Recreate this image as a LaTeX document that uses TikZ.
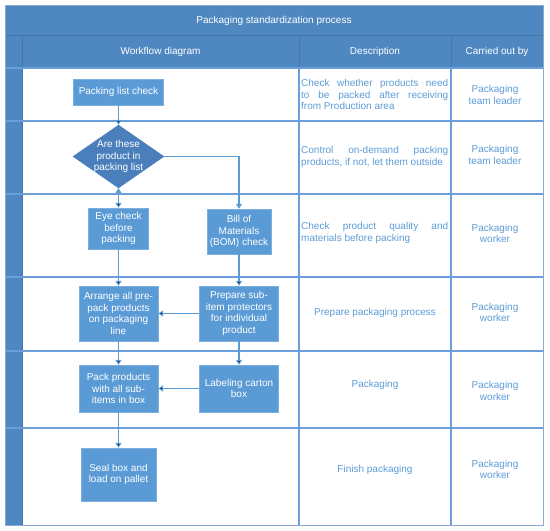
\documentclass[tikz,border=0pt]{standalone}
\usepackage{fontspec}
\setmainfont{Liberation Sans}
\usepackage{tikz}
\usetikzlibrary{arrows.meta,calc,shapes.geometric}

\definecolor{headblue}{HTML}{4F87C0}
\definecolor{headline}{HTML}{4477AE}
\definecolor{boxblue}{HTML}{5B9BD5}
\definecolor{diablue}{HTML}{4A7FBC}
\definecolor{gridblue}{HTML}{6C9FD9}
\definecolor{txtblue}{HTML}{5B9BD5}
\definecolor{frame}{HTML}{8EA9CF}

\newcommand{\jl}[1]{\makebox[147pt][s]{#1}}

\tikzset{
	every node/.style={font=\fontsize{10}{11.5}\selectfont},
	stepbox/.style={draw=boxblue!80!white, fill=boxblue, text=white, align=center, inner sep=0pt},
	decision/.style={diamond, draw=diablue, fill=diablue, inner sep=0pt, minimum width=91pt, minimum height=63pt},
	boxtext/.style={text=white, align=center, inner sep=0pt},
	headtext/.style={text=white, inner sep=0pt},
	desc/.style={text=txtblue, align=left, inner sep=0pt, anchor=west},
	who/.style={text=txtblue, align=center, inner sep=0pt},
	grid/.style={draw=gridblue, line width=1.2pt},
	flow/.style={draw=boxblue, line width=1.1pt, -{Triangle[length=5pt,width=6pt]}}
}

\begin{document}
\begin{tikzpicture}[x=1pt,y=-1pt]
	\useasboundingbox (0,0) rectangle (550,531);
	% bands
	\fill[headblue] (5,5) rectangle (543,68);
	\fill[headblue] (5,68) rectangle (22,525);
	\draw[headline, line width=1pt] (5,35) -- (543,35);
	\draw[headline, line width=1pt] (22,35) -- (22,525);
	\draw[headline, line width=1pt] (299,35) -- (299,68);
	\draw[headline, line width=1pt] (451,35) -- (451,68);
	% body grid
	\foreach \y in {68,121,194,277,351,428}
		\draw[grid] (5,\y) -- (543,\y);
	\draw[grid] (299,68) -- (299,525);
	\draw[grid] (451,68) -- (451,525);
	\draw[frame, line width=1pt] (5,5) rectangle (543,525);

	% headers
	\node[headtext] (title) at (274,21) {Packaging standardization process};
	\node[headtext] (hflow) at (160.5,52) {Workflow diagram};
	\node[headtext] (hdesc) at (375,52) {Description};
	\node[headtext] (hwho) at (497,52) {Carried out by};

	% workflow
	\node[stepbox, minimum width=90pt, minimum height=26pt] (plc) at (118.5,92) {Packing list check};
	\node[decision] (dia) at (118.5,156.5) {};
	\node[boxtext] (diat) at (dia.center) {Are these\\product in\\packing list};
	\node[stepbox, minimum width=60pt, minimum height=41pt] (eye) at (118.5,228.5) {Eye check\\before\\packing};
	\node[stepbox, minimum width=64pt, minimum height=45pt] (bom) at (239,231.5) {Bill of\\Materials\\(BOM) check};
	\node[stepbox, minimum width=79pt, minimum height=55pt] (arr) at (118.5,313.5) {Arrange all pre-\\pack products\\on packaging\\line};
	\node[stepbox, minimum width=79pt, minimum height=55pt] (prep) at (239,313.5) {Prepare sub-\\item protectors\\for individual\\product};
	\node[stepbox, minimum width=79pt, minimum height=47pt] (pack) at (118.5,388.5) {Pack products\\with all sub-\\items in box};
	\node[stepbox, minimum width=79pt, minimum height=47pt] (lab) at (239,388.5) {Labeling carton\\box};
	\node[stepbox, minimum width=75pt, minimum height=53pt] (seal) at (118.5,474.5) {Seal box and\\load on pallet};

	\path[flow]
	(plc) edge (dia.north)
	(dia.south) edge (eye)
	(eye) edge (arr)
	(bom) edge (prep)
	(prep) edge (arr)
	(arr) edge (pack)
	(prep) edge (lab)
	(lab) edge (pack)
	(pack) edge (seal);
	\draw[flow] (dia.east) -| (bom.north);

	% description
	\node[desc] (d1) at (301,94.5) {\jl{Check whether products need}\\\jl{to be packed after receiving}\\from Production area};
	\node[desc] (d2) at (301,157) {\jl{Control on-demand packing}\\products, if not, let them outside};
	\node[desc] (d3) at (301,233) {\jl{Check product quality and}\\materials before packing};
	\node[who] (d4) at (375,313) {Prepare packaging process};
	\node[who] (d5) at (375,385) {Packaging};
	\node[who] (d6) at (375,470) {Finish packaging};

	% carried out by
	\node[who] (w1) at (495,95) {Packaging\\team leader};
	\node[who] (w2) at (495,155) {Packaging\\team leader};
	\node[who] (w3) at (495,233.5) {Packaging\\worker};
	\node[who] (w4) at (495,312.5) {Packaging\\worker};
	\node[who] (w5) at (495,391) {Packaging\\worker};
	\node[who] (w6) at (495,469.5) {Packaging\\worker};
\end{tikzpicture}
\end{document}
